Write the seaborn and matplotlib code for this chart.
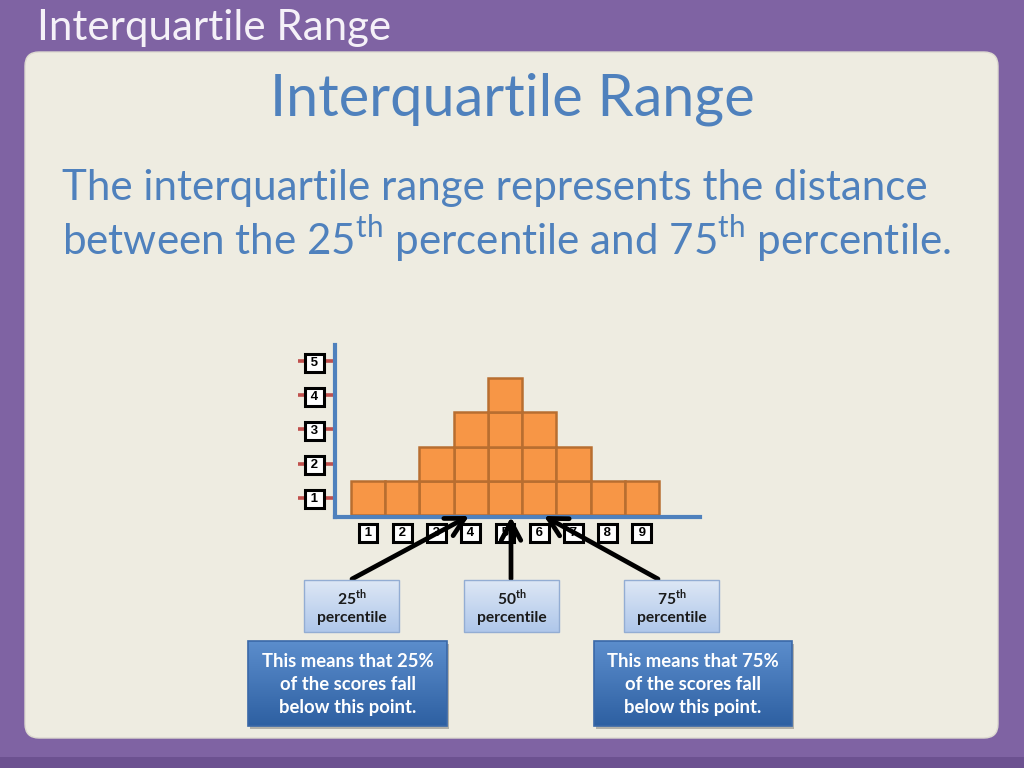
import numpy as np
import pandas as pd
import matplotlib
matplotlib.use("Agg")
import matplotlib.pyplot as plt
import seaborn as sns
from matplotlib.patches import FancyBboxPatch, Rectangle
from matplotlib.colors import LinearSegmentedColormap

# ---------------- data ----------------
scores = [1, 2, 3, 4, 5, 6, 7, 8, 9]
counts = [1, 1, 2, 3, 4, 3, 2, 1, 1]
y_tick_values = [1, 2, 3, 4, 5]
header_title = "Interquartile Range"
main_title = "Interquartile Range"
body_line1 = "The interquartile range represents the distance"
body_line2 = "between the 25$^{\\mathdefault{th}}$ percentile and 75$^{\\mathdefault{th}}$ percentile."
percentile_labels = ["25", "50", "75"]
note_left = ["This means that 25%", "of the scores fall", "below this point."]
note_right = ["This means that 75%", "of the scores fall", "below this point."]

# ---------------- style ----------------
sns.set_style("white")
plt.rcParams["font.family"] = ["Lato", "DejaVu Sans"]

PURPLE = "#7F63A3"
PANEL = "#EEECE1"
BLUE = "#4F81BD"
ORANGE = "#F79646"
EDGE = "#B86E30"
RED = "#C0504D"
THIN = "\u2009"

W, H = 1024, 768
fig = plt.figure(figsize=(10.24, 7.68), dpi=100)
fig.patch.set_facecolor(PURPLE)
renderer = fig.canvas.get_renderer()


def fit(t, target):
    w = t.get_window_extent(renderer=renderer).width
    t.set_fontsize(t.get_fontsize() * target / w)
    return t.get_fontsize()


def grad_box(ax, x0, y0, w, h, c_top, c_bot, ec, lw, z, shadow=False):
    if shadow:
        ax.add_patch(Rectangle((x0 + 2, y0 + 3), w, h, fc="#000000", alpha=0.25,
                               ec="none", zorder=z - 0.2))
    grad = np.linspace(0, 1, 64)[:, None]
    cmap = LinearSegmentedColormap.from_list("g", [c_top, c_bot])
    im = ax.imshow(grad, extent=(x0, x0 + w, y0 + h, y0), cmap=cmap,
                   aspect="auto", zorder=z, interpolation="bilinear")
    rect = Rectangle((x0, y0), w, h, fc="none", ec=ec, lw=lw, zorder=z + 0.1)
    ax.add_patch(rect)
    im.set_clip_path(rect)


# ---------------- background panel ----------------
bg = fig.add_axes([0, 0, 1, 1], zorder=0)
bg.set_xlim(0, W)
bg.set_ylim(H, 0)
bg.axis("off")
bg.add_patch(Rectangle((0, 757), W, 11, fc="#6C5190", ec="none"))
bg.add_patch(FancyBboxPatch((25, 52), 973, 686,
                            boxstyle="round,pad=0,rounding_size=14",
                            fc=PANEL, ec="#DDDAD0", lw=1))

t = bg.text(37, 40, header_title, color="#F5F1F8", fontsize=28,
            ha="left", va="baseline")
fit(t, 353)
t = bg.text(512, 116, main_title, color=BLUE, fontsize=36,
            ha="center", va="baseline")
fit(t, 486)
t1 = bg.text(62, 200, body_line1, color=BLUE, fontsize=28,
             ha="left", va="baseline")
fs_body = fit(t1, 868)
bg.text(62, 255, body_line2, color=BLUE, fontsize=fs_body,
        ha="left", va="baseline")

# ---------------- chart ----------------
ax = fig.add_axes([335 / W, 1 - 517 / H, 365 / W, 172 / H], zorder=1)
ax.patch.set_alpha(0)

rows = []
for s, c in zip(scores, counts):
    for lvl in range(1, c + 1):
        rows.append({"score": s, "level": str(lvl)})
df = pd.DataFrame(rows)
levels = [str(i) for i in range(1, max(counts) + 1)]

sns.histplot(data=df, x="score", hue="level", hue_order=levels,
             discrete=True, multiple="stack", shrink=1,
             palette=[ORANGE] * len(levels), edgecolor=EDGE, linewidth=1.8,
             alpha=1, legend=False, ax=ax)

ax.set_xlim(0.032, 10.70)
ax.set_ylim(-0.06, 4.97)
ax.set_xlabel("")
ax.set_ylabel("")
for side in ["top", "right"]:
    ax.spines[side].set_visible(False)
for side in ["left", "bottom"]:
    ax.spines[side].set_color(BLUE)
    ax.spines[side].set_linewidth(3)

ax.set_xticks(scores)
ax.set_xticklabels([THIN + str(s) + THIN for s in scores])
ax.set_yticks([v - 0.5 for v in y_tick_values])
ax.set_yticklabels([THIN + str(v) + THIN for v in y_tick_values])
ax.tick_params(axis="x", bottom=False, length=0, pad=7)
ax.tick_params(axis="y", left=True, length=27, width=2.6, color=RED, pad=-17,
               direction="out")
box_kw = dict(boxstyle="square,pad=0.23", fc="white", ec="black", lw=2.2)
for lab in ax.get_xticklabels() + ax.get_yticklabels():
    lab.set_fontfamily(["Liberation Sans", "DejaVu Sans"])
    lab.set_fontweight("bold")
    lab.set_fontsize(9.5)
    lab.set_color("black")
    lab.set_bbox(box_kw)

# ---------------- overlay: arrows and boxes ----------------
top = fig.add_axes([0, 0, 1, 1], zorder=2)
top.patch.set_alpha(0)

arrows = [((352, 579), (469, 516)), ((511, 579), (511, 517)), ((658, 579), (544, 516))]
for start, end in arrows:
    top.annotate("", xy=end, xytext=start,
                 arrowprops=dict(arrowstyle="->,head_length=0.6,head_width=0.32",
                                 lw=3.4, color="black", shrinkA=0, shrinkB=0,
                                 mutation_scale=22))

light_boxes = [(304, 399), (464, 559), (624, 719)]
fs_small = None
for (x0, x1), lab in zip(light_boxes, percentile_labels):
    grad_box(top, x0, 580, x1 - x0, 52, "#DDE7F5", "#AFC7EA", "#93ADD3", 1.0, 3)
    cx = (x0 + x1) / 2
    tp = top.text(cx, 622, "percentile", ha="center", va="baseline",
                  fontweight="bold", color="#1A1A1A", fontsize=10, zorder=5)
    if fs_small is None:
        fs_small = fit(tp, 70)
    else:
        tp.set_fontsize(fs_small)
    top.text(cx, 605, lab + "$^{\\mathdefault{th}}$", ha="center", va="baseline",
             fontweight="bold", color="#1A1A1A", fontsize=fs_small, zorder=5)

dark_boxes = [(248, 447, note_left), (594, 792, note_right)]
fs_note = None
for x0, x1, lines in dark_boxes:
    grad_box(top, x0, 641, x1 - x0, 85, "#5B8DCC", "#2E60A2", "#3A68A8", 1.2, 3,
             shadow=True)
    cx = (x0 + x1) / 2
    for i, line in enumerate(lines):
        tn = top.text(cx, 667 + 23 * i, line, ha="center", va="baseline",
                      fontweight="bold", color="white", fontsize=12, zorder=5)
        if fs_note is None:
            fs_note = fit(tn, 170)
        else:
            tn.set_fontsize(fs_note)

top.set_xlim(0, W)
top.set_ylim(H, 0)
top.axis("off")

fig.savefig("out.png", dpi=100)
